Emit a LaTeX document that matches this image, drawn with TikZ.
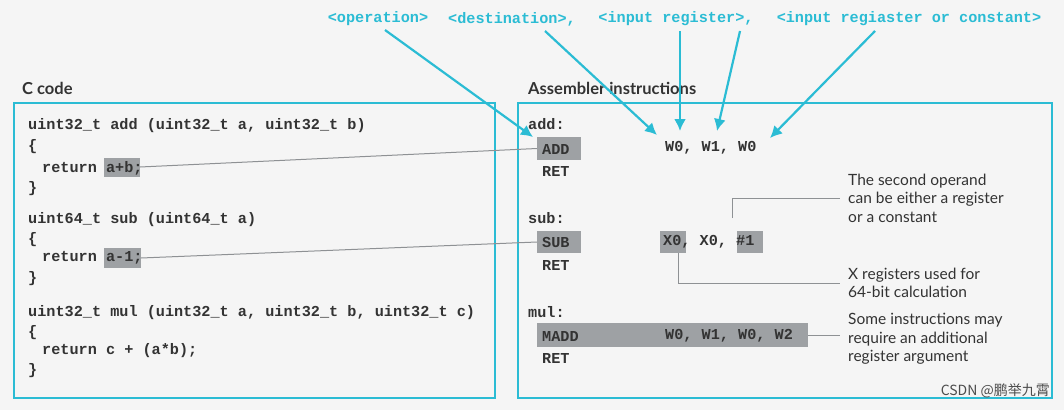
\documentclass[tikz,border=0pt]{standalone}
\usetikzlibrary{arrows.meta}
\usepackage{fontspec}
\setmainfont{Lato}
\newfontfamily\monof{Liberation Mono}
\newfontfamily\cjkf{Noto Sans CJK SC}
\definecolor{cy}{HTML}{2BBCD4}
\definecolor{hl}{HTML}{9EA1A4}
\definecolor{ln}{HTML}{8E9194}
\definecolor{tx}{HTML}{333333}
\begin{document}
\begin{tikzpicture}[x=1pt,y=-1pt,
  code/.style={anchor=west,inner sep=0,font=\monof\bfseries\fontsize{15.2}{16}\selectfont,text=tx},
  top/.style={code,anchor=center,text=cy},
  hbox/.style={fill=hl,draw=none},
  note/.style={anchor=west,inner sep=0,font=\fontsize{15.5}{18.5}\selectfont,text=tx,align=left},
  head/.style={anchor=west,inner sep=0,font=\bfseries\fontsize{16.5}{18}\selectfont,text=tx},
  panel/.style={draw=cy,line width=1.8pt},
  arr/.style={cy,line width=2.2pt,-{Latex[length=12pt,width=12pt]}},
  gl/.style={ln,line width=1pt}]
\fill[white!96!black] (0,0) rectangle (1064,410);
\useasboundingbox (0,0) rectangle (1064,410);
\draw[panel] (14,103) rectangle (495,398);
\draw[panel] (518,103) rectangle (1052,398);
\node[head] at (22,88) {C code};
\node[head] at (528,88) {Assembler instructions};
% top labels
\node[top] (op) at (378,19) {<operation>};
\node[top] (de) at (512,19) {<destination>,};
\node[top] (ir) at (676,19) {<input register>,};
\node[top] (ic) at (909,19) {<input regiaster or constant>};
% highlight boxes
\fill[hl] (104,158) rectangle (140,177);
\fill[hl] (104,248) rectangle (141,268);
\node[hbox,minimum width=44pt,minimum height=23pt,inner sep=0] (ADD) at (559,148.5) {};
\node[hbox,minimum width=44pt,minimum height=22pt,inner sep=0] (SUB) at (559,242) {};
\fill[hl] (660,231) rectangle (686,253);
\fill[hl] (737,231) rectangle (763,253);
\fill[hl] (537,323) rectangle (808,347);
% C code
\node[code] at (28,126) {uint32\_t add (uint32\_t a, uint32\_t b)};
\node[code] at (28,147) {\{};
\node[code] (ab) at (42,168) {return a+b;};
\node[code] at (28,189) {\}};
\node[code] at (28,220) {uint64\_t sub (uint64\_t a)};
\node[code] at (28,240) {\{};
\node[code] (am) at (42,258) {return a-1;};
\node[code] at (28,279) {\}};
\node[code] at (28,313) {uint32\_t mul (uint32\_t a, uint32\_t b, uint32\_t c)};
\node[code] at (28,333) {\{};
\node[code] at (42,351) {return c + (a*b);};
\node[code] at (28,371) {\}};
% asm
\node[code] at (528,124) {add:};
\node[code] at (542,149) {ADD};
\node[code] at (542,171) {RET};
\node[code] (w) at (665,148) {W0, W1, W0};
\node[code] at (528,218) {sub:};
\node[code] at (542,242) {SUB};
\node[code] at (542,265) {RET};
\node[code] at (663,242) {X0, X0, \#1};
\node[code] at (528,312) {mul:};
\node[code] at (542,336) {MADD};
\node[code] at (665,336) {W0, W1, W0, W2};
\node[code] at (542,358) {RET};
% arrows
\coordinate (e1) at (533,137);
\coordinate (e2) at (657,135);
\coordinate (e3) at (680,131);
\coordinate (e4) at (717,131);
\coordinate (e5) at (770,138);
\draw[arr] (385,30) -- (e1);
\draw[arr] (545,31) -- (e2);
\draw[arr] (680,31) -- (e3);
\draw[arr] (740,31) -- (e4);
\draw[arr] (875,31) -- (e5);
% connectors
\draw[gl] (140,167) -- (ADD.west);
\draw[gl] (141,258) -- (SUB.west);
\draw[gl] (732,218) |- (840,198);
\draw[gl] (678,253) |- (840,283);
\draw[gl] (808,335) -- (840,335);
% notes
\node[note] at (848,198) {The second operand\\can be either a register\\or a constant};
\node[note] at (848,283) {X registers used for\\64-bit calculation};
\node[note] at (848,339) {Some instructions may\\require an additional\\register argument};
\node[anchor=east,inner sep=0,font=\cjkf\fontsize{14}{16}\selectfont,text=black!70] at (1050,391) {CSDN @鹏举九霄};
\end{tikzpicture}
\end{document}
